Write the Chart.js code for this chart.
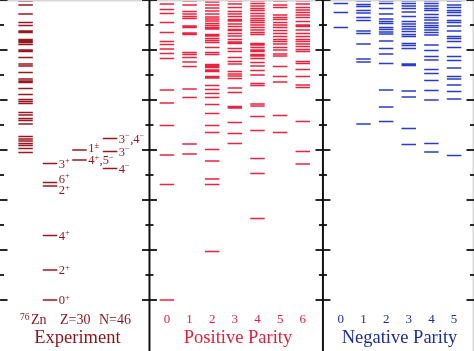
<!DOCTYPE html>
<html><head><meta charset="utf-8">
<script src="https://cdn.jsdelivr.net/npm/chart.js@4/dist/chart.umd.min.js"></script>
<style>html,body{margin:0;padding:0;background:#fff;}canvas{display:block}</style>
</head><body><canvas id="c" width="474" height="351"></canvas>
<script>
// ---------- DATA (energies in MeV) ----------
const expDense = [5.98,5.9,5.72,5.55,5.49,5.38,5.35,5.21,5.18,5.15,5.11,5.0,4.97,4.85,4.72,4.68,4.55,4.42,4.38,4.35,4.23,4.11,4.01,3.97,3.93,3.75,3.7,3.63,3.59,3.52,3.27,3.22,3.18,3.13,3.09,3.03,2.95];
const expEnergies = [0, 0.6, 1.29, 2.28, 2.35, 2.73, 2.8, 3.0, 2.63, 2.97, 3.23];
const expColumn   = [0, 0, 0, 0, 0, 0, 1, 1, 2, 2, 2];
const expSpins    = ["0+","2+","4+","2+","6+","3+","4+,5−","1±","4−","3−","3−,4−"];
const nuclide = {mass:"76", symbol:"Zn", z:"Z=30", n:"N=46"};

const posJ = [0,1,2,3,4,5,6];
const pos0 = [5.92,5.81,5.73,5.55,5.35,5.17,5.11,5.02,4.93,4.83,4.2,3.94,3.49,2.9,2.31,0];
const pos1 = [5.98,5.9,5.77,5.72,5.67,5.63,5.48,5.45,5.34,5.31,4.95,4.91,4.85,4.76,4.67,4.22,4.05,3.12,2.92];
const pos2 = [5.96,5.9,5.84,5.78,5.72,5.66,5.62,5.58,5.53,5.49,5.45,5.42,5.31,5.28,5.23,5.19,5.15,5.05,4.95,4.91,4.71,4.68,4.65,4.6,4.57,4.47,4.44,4.29,4.21,4.13,4.05,3.91,3.73,3.49,3.35,3.01,2.78,2.42,2.31,0.97];
const pos3 = [5.98,5.92,5.85,5.77,5.72,5.67,5.61,5.58,5.52,5.47,5.41,5.39,5.33,5.28,5.21,5.16,5.13,5.03,4.97,4.85,4.77,4.72,4.57,4.52,4.48,4.43,4.24,4.15,3.87,3.84,3.55,3.33,3.13];
const pos4 = [5.98,5.93,5.88,5.83,5.79,5.73,5.68,5.63,5.59,5.55,5.5,5.45,5.4,5.35,5.31,5.13,5.1,5.05,5.0,4.97,4.91,4.88,4.83,4.75,4.68,4.59,4.5,4.33,4.29,3.92,3.88,3.67,3.39,2.83,2.53,1.63];
const pos5 = [5.98,5.9,5.85,5.7,5.65,5.61,5.55,5.5,5.45,5.39,5.33,5.27,5.21,5.17,5.12,5.05,5.0,4.92,4.88,4.67,4.47,4.36,3.69,3.35];
const pos6 = [5.98,5.92,5.85,5.8,5.75,5.7,5.65,5.57,5.5,5.47,5.4,5.33,5.27,5.21,5.17,5.12,5.07,5.01,4.97,4.77,4.73,4.61,4.47,4.3,4.25,3.57,2.97,2.72];

const negJ = [0,1,2,3,4,5];
const neg0 = [5.93,5.75,5.45];
const neg1 = [5.98,5.91,5.87,5.79,5.74,5.65,5.59,5.38,5.33,5.12,4.82,4.76,3.52];
const neg2 = [5.98,5.93,5.83,5.72,5.62,5.57,5.53,5.45,5.41,5.36,5.32,5.18,5.03,4.92,4.73,4.2,3.86,3.57];
const neg3 = [5.98,5.93,5.88,5.83,5.76,5.67,5.57,5.52,5.47,5.42,5.37,5.31,5.27,5.13,5.09,5.03,4.72,4.69,4.18,4.06,3.43,3.11];
const neg4 = [5.98,5.93,5.88,5.83,5.79,5.71,5.65,5.6,5.54,5.49,5.45,5.4,5.35,5.3,5.1,4.99,4.87,4.8,4.61,4.53,4.39,4.19,4.0,3.13,2.96];
const neg5 = [5.98,5.9,5.85,5.79,5.75,5.69,5.59,5.55,5.48,5.38,5.27,5.23,5.17,5.05,4.87,4.79,4.64,4.47,4.42,4.3,4.17,4.02,2.89];

const panelTitles = ["Experiment","Positive Parity","Negative Parity"];
const majorTicks = [0,1,2,3,4,5,6];
const minorTicks = [0.5,1.5,2.5,3.5,4.5,5.5];

// ---------- LAYOUT (x in column-slot units) ----------
const X_MAX = 20.93, Y_MIN = -1.02, Y_MAX = 6;
const expDenseX = 1.13, expColX = [2.21, 3.51, 4.86];
const posX0 = 7.37, negX0 = 15.05, halfW = 0.32;
const sepX = [6.6, 14.26];
const titleX = [3.42, 10.51, 17.64];
const labelShift = [0,0,0,4,-4,0,0,-2,0,0,0];

const expColor = '#981820', posColor = '#e8243e', negColor = '#2a3cc6';
const expText = '#8c1418', posText = '#e3203a', negText = '#1c2ca0';
const SERIF = '"Liberation Serif","Times New Roman",serif';

function segs(levels, cx){
  const d = [];
  levels.forEach(E => { d.push({x:cx-halfW,y:E},{x:cx+halfW,y:E},{x:cx,y:null}); });
  return d;
}
function ds(data,color,w){
  return {data, borderColor:color, borderWidth:w||1.4, showLine:true, spanGaps:false, pointRadius:0, fill:false};
}
const datasets = [];
datasets.push(ds(segs(expDense, expDenseX), expColor, 1.5));
expEnergies.forEach((E,i)=> datasets.push(ds(segs([E], expColX[expColumn[i]]), expColor, 1.5)));
[pos0,pos1,pos2,pos3,pos4,pos5,pos6].forEach((lv,j)=> datasets.push(ds(segs(lv, posX0+posJ[j]), posColor)));
[neg0,neg1,neg2,neg3,neg4,neg5].forEach((lv,j)=> datasets.push(ds(segs(lv, negX0+negJ[j]), negColor)));

function drawSpin(ctx, str, x, y, size, color){
  ctx.fillStyle = color; ctx.textBaseline = 'alphabetic'; ctx.textAlign = 'left';
  let cx = x; const base = y + size*0.35;
  for (const ch of str){
    const sup = (ch==='+'||ch==='−'||ch==='±');
    const fs = sup ? size*0.68 : size;
    ctx.font = fs + 'px ' + SERIF;
    ctx.fillText(ch, cx, sup ? base - size*0.38 : base);
    cx += ctx.measureText(ch).width + (sup?0.3:0);
  }
}

const decor = {
  id:'decor',
  afterDatasetsDraw(chart){
    const ctx = chart.ctx, xs = chart.scales.x, ys = chart.scales.y;
    const top = chart.chartArea.top, bot = chart.chartArea.bottom;
    ctx.save();
    ctx.strokeStyle = '#d8d8d8'; ctx.lineWidth = 1.5;
    ctx.beginPath(); ctx.moveTo(0,0.75); ctx.lineTo(chart.width,0.75); ctx.stroke();
    ctx.beginPath(); ctx.moveTo(chart.width-0.75,0); ctx.lineTo(chart.width-0.75,bot); ctx.stroke();
    ctx.strokeStyle = '#111'; ctx.lineWidth = 2;
    sepX.forEach(s=>{ const px = xs.getPixelForValue(s); ctx.beginPath(); ctx.moveTo(px,top); ctx.lineTo(px,bot); ctx.stroke(); });
    const edges = [{v:0,dir:1},{v:sepX[0],dir:0},{v:sepX[1],dir:0},{v:X_MAX,dir:-1}];
    ctx.lineWidth = 1.8;
    const tick = (E,len)=>{
      const py = Math.round(ys.getPixelForValue(E));
      edges.forEach(e=>{
        const px = xs.getPixelForValue(e.v);
        ctx.beginPath();
        if (e.dir===1){ ctx.moveTo(px,py); ctx.lineTo(px+len,py); }
        else if (e.dir===-1){ ctx.moveTo(px,py); ctx.lineTo(px-len,py); }
        else { ctx.moveTo(px-len,py); ctx.lineTo(px+len,py); }
        ctx.stroke();
      });
    };
    majorTicks.forEach(E=>tick(E,7.5));
    minorTicks.forEach(E=>tick(E,4));
    expEnergies.forEach((E,i)=>{
      const px = xs.getPixelForValue(expColX[expColumn[i]]+halfW)+1.5;
      const py = ys.getPixelForValue(E)+labelShift[i];
      drawSpin(ctx, expSpins[i], px, py, 12.5, expText);
    });
    const nb = ys.getPixelForValue(-0.48);
    ctx.fillStyle = expText; ctx.textAlign='left'; ctx.textBaseline='alphabetic';
    ctx.font = '9.5px '+SERIF; ctx.fillText(nuclide.mass, xs.getPixelForValue(0.88), nb-4);
    ctx.font = '14px '+SERIF; ctx.fillText(nuclide.symbol, xs.getPixelForValue(1.37), nb);
    ctx.fillText(nuclide.z, xs.getPixelForValue(2.65), nb);
    ctx.fillText(nuclide.n, xs.getPixelForValue(4.37), nb);
    const jb = ys.getPixelForValue(-0.46);
    ctx.textAlign='center'; ctx.font = '13px '+SERIF;
    ctx.fillStyle = posText; posJ.forEach(j=> ctx.fillText(String(j), xs.getPixelForValue(posX0+j), jb));
    ctx.fillStyle = negText; negJ.forEach(j=> ctx.fillText(String(j), xs.getPixelForValue(negX0+j), jb));
    const tb = ys.getPixelForValue(-0.86);
    ctx.font = '18.5px '+SERIF;
    [expText,posText,negText].forEach((c,i)=>{ ctx.fillStyle=c; ctx.fillText(panelTitles[i], xs.getPixelForValue(titleX[i]), tb); });
    ctx.restore();
  }
};

new Chart(document.getElementById('c'), {
  type:'scatter',
  data:{datasets},
  options:{
    responsive:false, animation:false, devicePixelRatio:1,
    layout:{padding:0},
    plugins:{legend:{display:false}, tooltip:{enabled:false}},
    scales:{
      x:{type:'linear', min:0, max:X_MAX, display:false},
      y:{type:'linear', min:Y_MIN, max:Y_MAX, display:false}
    }
  },
  plugins:[decor]
});
</script></body></html>
